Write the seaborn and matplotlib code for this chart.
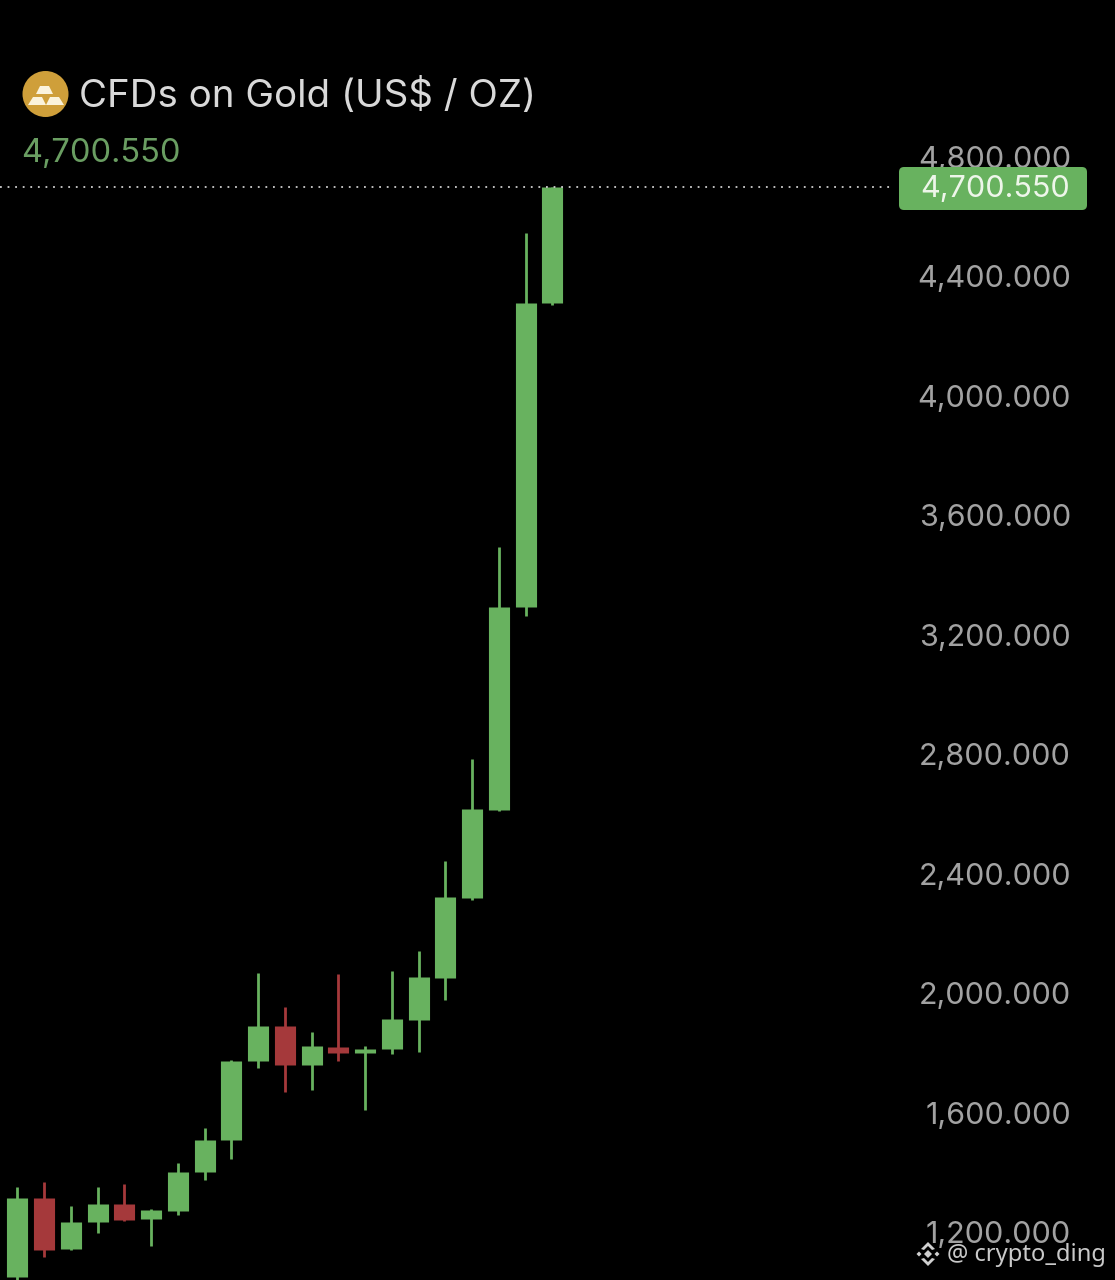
import matplotlib
matplotlib.use("Agg")
import matplotlib.pyplot as plt
import matplotlib.patches as mpatches
import matplotlib.transforms as mtransforms
import pandas as pd
import seaborn as sns

# yearly candles
opens = [1049, 1314, 1143, 1233, 1294, 1243, 1270, 1401, 1508, 1773, 1890, 1759, 1820, 1799, 1813,
         1910, 2051, 2318, 2613, 3293, 4311]
closes = [1314, 1140, 1233, 1294, 1240, 1274, 1401, 1508, 1773, 1890, 1759, 1823, 1799, 1813, 1913,
          2054, 2322, 2616, 3293, 4311, 4700.55]
highs = [1351, 1367, 1287, 1351, 1361, 1277, 1431, 1548, 1776, 2067, 1953, 1870, 2064, 1823, 2074,
         2141, 2442, 2784, 3494, 4545, 4700.55]
lows = [1040, 1116, 1140, 1197, 1238, 1153, 1257, 1374, 1444, 1749, 1669, 1676, 1773, 1609, 1796,
        1803, 1977, 2312, 2610, 3263, 4304]
price_ticks = [1200, 1600, 2000, 2400, 2800, 3200, 3600, 4000, 4400, 4800]
last_price = 4700.55
title = "CFDs on Gold (US$ / OZ)"
watermark = "@ crypto_ding"

GREEN = "#68b25f"
RED = "#a5393b"
W, H = 1115, 1280

df = pd.DataFrame({"open": opens, "close": closes, "high": highs, "low": lows})
df["candle"] = df.index
df["dir"] = ["up" if c >= o else "down" for o, c in zip(df["open"], df["close"])]
wicks = df.melt(id_vars=["candle", "dir"], value_vars=["high", "low"], value_name="price")
bodies = df.melt(id_vars=["candle", "dir"], value_vars=["open", "close"], value_name="price")

sns.set_theme(style="dark", rc={"axes.facecolor": "black", "figure.facecolor": "black"})
plt.rcParams["font.family"] = ["Inter", "DejaVu Sans"]

fig = plt.figure(figsize=(W / 100, H / 100), dpi=100)
ax = fig.add_axes([0, 0, 1, 1])
pal = {"up": GREEN, "down": RED}

sns.lineplot(data=wicks, x="candle", y="price", hue="dir", units="candle", estimator=None, palette=pal,
             linewidth=2.0, legend=False, ax=ax, solid_capstyle="butt")
sns.lineplot(data=bodies, x="candle", y="price", hue="dir", units="candle", estimator=None, palette=pal,
             linewidth=15.2, legend=False, ax=ax, solid_capstyle="butt")

ax.set_xlim(-0.654, 41.03)
ax.set_ylim(1039.3, 5325.76)
ax.set_xlabel("")
ax.set_ylabel("")
ax.set_xticks([])
ax.grid(False)
for s in ax.spines.values():
    s.set_visible(False)

ax.yaxis.tick_right()
ax.set_yticks(price_ticks)
ax.set_yticklabels([f"{p:,.3f}" for p in price_ticks])
ax.tick_params(axis="y", length=0, pad=-31.7, labelsize=22, labelcolor="#a2a2a2")
for lab in ax.get_yticklabels():
    lab.set_ha("right")

# screen-pixel coordinates for the header and overlays
px = mtransforms.Affine2D().scale(1 / W, -1 / H).translate(0, 1) + fig.transFigure

ax.hlines(last_price, -0.654, 32.69, colors="#cfcfcf", linewidth=1.3, linestyles=(0, (1, 3.2)))

fig.add_artist(mpatches.FancyBboxPatch((902, 170), 182, 37, boxstyle="round,pad=3,rounding_size=5",
                                       transform=px, facecolor=GREEN, edgecolor="none"))
fig.text(1070.5 / W, 1 - 189.5 / H, f"{last_price:,.3f}", ha="right", va="center", color="#eef6ea", fontsize=22)

fig.text(79 / W, 1 - 97 / H, title, ha="left", va="center", color="#d9d9d9", fontsize=27.7)
fig.text(21 / W, 1 - 153 / H, f"{last_price:,.3f}", ha="left", va="center", color="#6a9e62", fontsize=23.5)

# gold bars icon
fig.add_artist(mpatches.Circle((45.5, 94), 23, transform=px, facecolor="#cf9f3a", edgecolor="none"))
for pts in ([(36, 94), (53, 94), (49, 86), (40, 86)],
            [(28, 105), (46, 105), (42, 97), (33, 97)],
            [(46, 105), (64, 105), (59, 97), (50, 97)]):
    fig.add_artist(mpatches.Polygon(pts, closed=True, transform=px, facecolor="#fbf3dc", edgecolor="none"))

# watermark logo
for cx, cy, r in [(928, 1254, 4), (919, 1254, 2.5), (937, 1254, 2.5)]:
    fig.add_artist(mpatches.Polygon([(cx - r, cy), (cx, cy - r), (cx + r, cy), (cx, cy + r)], closed=True,
                                    transform=px, facecolor="#d0d0d0", edgecolor="none"))
for pts in ([(921, 1249), (928, 1242), (935, 1249), (932, 1250), (928, 1246), (924, 1250)],
            [(921, 1259), (928, 1266), (935, 1259), (932, 1258), (928, 1262), (924, 1258)]):
    fig.add_artist(mpatches.Polygon(pts, closed=True, transform=px, facecolor="#d0d0d0", edgecolor="none"))
fig.text(947 / W, 1 - 1255 / H, watermark, ha="left", va="center", color="#c9c9c9", fontsize=17.1,
         family=["Noto Sans", "DejaVu Sans"])

fig.savefig("out.png", dpi=100, facecolor="black")
